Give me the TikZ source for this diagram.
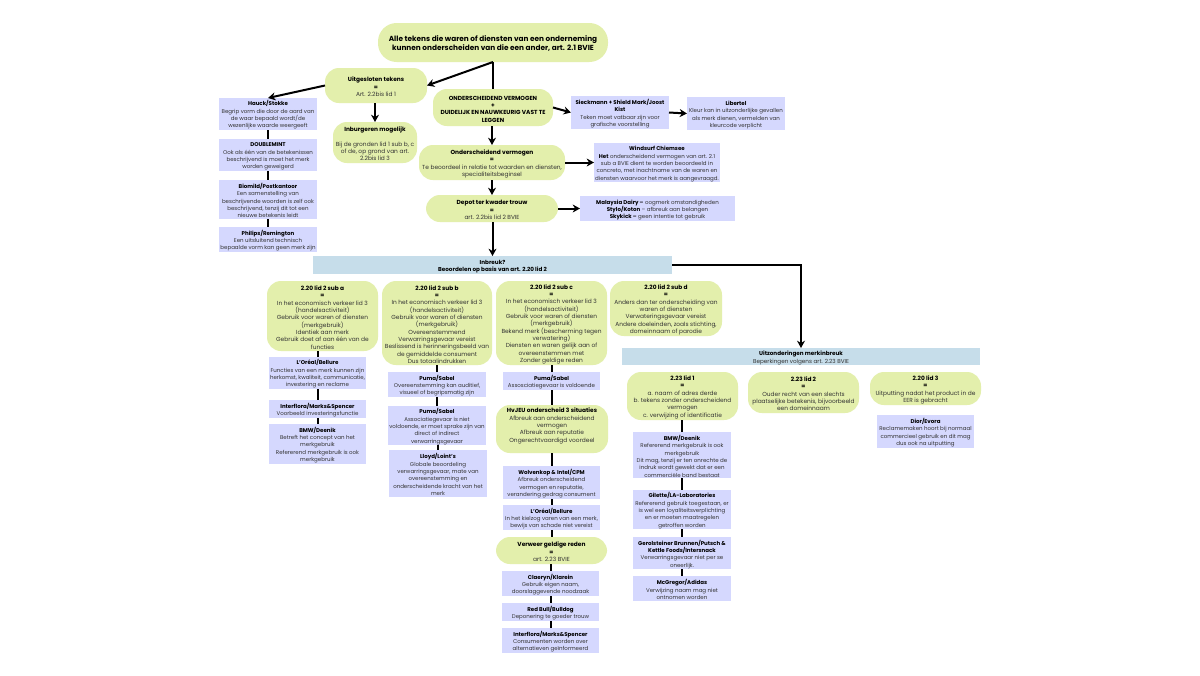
\documentclass[tikz,border=0pt]{standalone}
\usepackage{fontspec}
\setmainfont{Poppins}
\usetikzlibrary{arrows.meta}
\definecolor{gn}{HTML}{E3EFAC}
\definecolor{lil}{HTML}{D5D8FE}
\definecolor{blu}{HTML}{C6DDEA}
\definecolor{body}{HTML}{333333}
\newcommand\bx[7]{\node[#2,minimum width={(#5-#3)*0.75pt},minimum height={(#6-#4)*0.75pt}] (#1) at ({(#3+#5)/2},{(#4+#6)/2}) {\rule{0pt}{5.6pt}#7};}
\newcommand\hd[1]{\textbf{\color{black}#1}}
\tikzset{
 base/.style={inner sep=0pt,outer sep=0pt,align=center,text=body,font=\fontsize{4.12}{5.5}\selectfont},
 pill/.style={base,fill=gn,rounded corners=10.5pt,font=\fontsize{4.4}{5.5}\selectfont},
 card/.style={base,fill=lil},
 band/.style={base,fill=blu,font=\fontsize{4.25}{5.5}\selectfont},
 titlebox/.style={pill,rounded corners=14pt,text=black,font=\fontsize{5.5}{7}\selectfont\bfseries},
 arr/.style={line width=1.5pt,-{Stealth[length=5.5pt,width=6pt]}},
 lnk/.style={line width=1.5pt},
}
\begin{document}
\begin{tikzpicture}[x=0.75pt,y=-0.75pt]
\useasboundingbox (0,0) rectangle (1200,675);
\fill[white] (0,0) rectangle (1200,675);
\bx{top}{titlebox}{378}{23}{608}{62}{Alle tekens die waren of diensten van een onderneming\\kunnen onderscheiden van die een ander, art. 2.1 BVIE}
\bx{uit}{pill}{325}{68}{427}{103}{\hd{Uitgesloten tekens}\\\hd{=}\\Art. 2.2bis lid 1}
\bx{hauck}{card}{219}{98}{317}{130}{\hd{Hauck/Stokke}\\Begrip vorm die door de aard van\\de waar bepaald wordt/de\\wezenlijke waarde weergeeft}
\bx{dm}{card}{219}{139}{317}{171}{\hd{DOUBLEMINT}\\Ook als één van de betekenissen\\beschrijvend is moet het merk\\worden geweigerd}
\bx{biomild}{card}{219}{180}{317}{219}{\hd{Biomild/Postkantoor}\\Een samenstelling van\\beschrijvende woorden is zelf ook\\beschrijvend, tenzij dit tot een\\nieuwe betekenis leidt}
\bx{philips}{card}{219}{227}{317}{252}{\hd{Philips/Remington}\\Een uitsluitend technisch\\bepaalde vorm kan geen merk zijn}
\bx{inb}{pill}{333}{122}{417}{163}{\hd{Inburgeren mogelijk}\\[5.5pt]Bij de gronden lid 1 sub b, c\\of de, op grond van art.\\2.2bis lid 3}
\bx{ond}{pill}{433}{89}{553}{126}{\hd{ONDERSCHEIDEND VERMOGEN}\\\hd{+}\\\hd{DUIDELIJK EN NAUWKEURIG VAST TE}\\\hd{LEGGEN}}
\bx{sieck}{card}{571}{96}{669}{129}{\hd{Sieckmann + Shield Mark/Joost}\\\hd{Kist}\\Teken moet vatbaar zijn voor\\grafische voorstelling}
\bx{lib}{card}{687}{97}{785}{130}{\hd{Libertel}\\Kleur kan in uitzonderlijke gevallen\\als merk dienen, vermelden van\\kleurcode verplicht}
\bx{onv}{pill}{419}{145}{565}{180}{\hd{Onderscheidend vermogen}\\\hd{=}\\Te beoordeel in relatie tot waarden en diensten,\\specialiteitsbeginsel}
\bx{wind}{card}{594}{143}{720}{182}{\hd{Windsurf Chiemsee}\\\hd{Het} onderscheidend vermogen van art. 2.1\\sub a BVIE dient te worden beoordeeld in\\concreto, met inachtname van de waren en\\diensten waarvoor het merk is aangevraagd.}
\bx{depot}{pill}{426}{195}{558}{222}{\hd{Depot ter kwader trouw}\\\hd{=}\\art. 2.2bis lid 2 BVIE}
\bx{mal}{card}{580}{196}{735}{221}{\hd{Malaysia Dairy –} oogmerk omstandigheden\\\hd{Stylo/Koton} – afbreuk aan belangen\\\hd{Skykick –} geen intentie tot gebruik}
\bx{inbr}{band}{313}{256}{672}{274}{\hd{Inbreuk?}\\\hd{Beoordelen op basis van art. 2.20 lid 2}}
\bx{suba}{pill}{267}{281}{378}{351}{\hd{2.20 lid 2 sub a}\\\hd{=}\\In het economisch verkeer lid 3\\(handelsactiviteit)\\Gebruik voor waren of diensten\\(merkgebruik)\\Identiek aan merk\\Gebruik doet af aan één van de\\functies}
\bx{subb}{pill}{382}{281}{492}{365}{\hd{2.20 lid 2 sub b}\\\hd{=}\\In het economisch verkeer lid 3\\(handelsactiviteit)\\Gebruik voor waren of diensten\\(merkgebruik)\\Overeenstemmend\\Verwarringsgevaar vereist\\Beslissend is herinneringsbeeld van\\de gemiddelde consument\\Dus totaalindrukken}
\bx{subc}{pill}{496}{281}{607}{365}{\hd{2.20 lid 2 sub c}\\\hd{=}\\In het economisch verkeer lid 3\\(handelsactiviteit)\\Gebruik voor waren of diensten\\(merkgebruik)\\Bekend merk (bescherming tegen\\verwatering)\\Diensten en waren gelijk aan of\\overeenstemmen met\\Zonder geldige reden}
\bx{subd}{pill}{610}{281}{722}{336}{\hd{2.20 lid 2 sub d}\\\hd{=}\\Anders dan ter onderscheiding van\\waren of diensten\\Verwateringsgevaar vereist\\Andere doeleinden, zoals stichting,\\domeinnaam of parodie}
\bx{lor}{card}{269}{357}{366}{389}{\hd{L'Oréal/Bellure}\\Functies van een merk kunnen zijn\\herkomst, kwaliteit, communicatie,\\investering en reclame}
\bx{intf}{card}{269}{400}{366}{418}{\hd{Interflora/Marks\&Spencer}\\Voorbeeld investeringsfunctie}
\bx{bmwa}{card}{269}{424}{366}{464}{\hd{BMW/Deenik}\\Betreft het concept van het\\merkgebruik\\Refererend merkgebruik is ook\\merkgebruik}
\bx{pumaa}{card}{388}{372}{486}{397}{\hd{Puma/Sabel}\\Overeenstemming kan auditief,\\visueel of begripsmatig zijn}
\bx{pumab}{card}{388}{406}{486}{445}{\hd{Puma/Sabel}\\Associatiegevaar is niet\\voldoende, er moet sprake zijn van\\direct of indirect\\verwarringsgevaar}
\bx{lloyd}{card}{389}{450}{487}{497}{\hd{Lloyd/Loint's}\\Globale beoordeling\\verwarringsgevaar, mate van\\overeenstemming en\\onderscheidende kracht van het\\merk}
\bx{pumac}{card}{503}{372}{600}{390}{\hd{Puma/Sabel}\\Assosciatiegevaar is voldoende}
\bx{hv}{pill}{496}{405}{608}{453}{\hd{HvJEU onderscheid 3 situaties}\\Afbreuk aan onderscheidend\\vermogen\\Afbreuk aan reputatie\\Ongerechtvaardigd voordeel\\[2.5pt]}
\bx{wolv}{card}{503}{466}{600}{499}{\hd{Wolvenkop \& Intel/CPM}\\Afbreuk onderscheidend\\vermogen en reputatie,\\verandering gedrag consument}
\bx{lorc}{card}{503}{505}{600}{530}{\hd{L'Oréal/Bellure}\\In het kielzog varen van een merk,\\bewijs van schade niet vereist}
\bx{verw}{pill}{496}{537}{607}{564}{\hd{Verweer geldige reden}\\\hd{=}\\art. 2.23 BVIE}
\bx{cla}{card}{502}{571}{599}{596}{\hd{Claeryn/Klarein}\\Gebruik eigen naam,\\doorslaggevende noodzaak}
\bx{red}{card}{502}{603}{599}{621}{\hd{Red Bull/Bulldog}\\Deponering te goeder trouw}
\bx{intc}{card}{502}{628}{599}{653}{\hd{Interflora/Marks\&Spencer}\\Consumenten worden over\\alternatieven geïnformeerd}
\bx{uitz}{band}{622}{348}{980}{365}{\hd{Uitzonderingen merkinbreuk}\\Beperkingen volgens art. 2.23 BVIE}
\bx{la}{pill}{627}{372}{738}{420}{\hd{2.23 lid 1}\\\hd{=}\\a. naam of adres derde\\b. tekens zonder onderscheidend\\vermogen\\c. verwijzing of identificatie}
\bx{lb}{pill}{748}{372}{859}{413}{\hd{2.23 lid 2}\\\hd{=}\\Ouder recht van een slechts\\plaatselijke betekenis, bijvoorbeeld\\een domeinnaam}
\bx{lc}{pill}{870}{372}{981}{405}{\hd{2.20 lid 3}\\\hd{=}\\Uitputting nadat het product in de\\EER is gebracht}
\bx{dior}{card}{877}{415}{974}{448}{\hd{Dior/Evora}\\Reclamemaken hoort bij normaal\\commercieel gebruik en dit mag\\dus ook na uitputting}
\bx{bmwx}{card}{633}{432}{731}{478}{\hd{BMW/Deenik}\\Refererend merkgebruik is ook\\merkgebruik\\Dit mag, tenzij er ten onrechte de\\indruk wordt gewekt dat er een\\commerciële band bestaat}
\bx{gil}{card}{633}{490}{731}{529}{\hd{Gilette/LA-Laboratories}\\Refererend gebruik toegestaan, er\\is wel een loyaliteitsverplichting\\en er moeten maatregelen\\getroffen worden}
\bx{ger}{card}{633}{537}{731}{569}{\hd{Gerolsteiner Brunnen/Putsch \&}\\\hd{Kettle Foods/Intersnack}\\Verwarringsgevaar niet per se\\oneerlijk.}
\bx{mcg}{card}{633}{576}{731}{601}{\hd{McGregor/Adidas}\\Verwijzing naam mag niet\\ontnomen worden}

\draw[arr] (top.south) -- (uit.east);
\draw[lnk] (top.south) -- (ond.north);
\draw[arr] (uit.west) -- (hauck.north);
\foreach \a/\b in {uit/inb,ond/onv,onv/depot,depot/inbr}
  \draw[arr] (\b.north |- \a.south) -- (\b.north);
\draw[arr] (ond.east) -- (sieck.west);
\draw[arr] (sieck.east) -- (lib.west);
\draw[arr] (onv.east) -- (wind.west);
\draw[arr] (depot.east) -- (mal.west);
\draw[arr] (inbr.east) -| (uitz.north);
\foreach \a/\b in {hauck/dm,dm/biomild,biomild/philips,suba/lor,lor/intf,intf/bmwa,subb/pumaa,pumaa/pumab,pumab/lloyd,subc/pumac,pumac/hv,hv/wolv,wolv/lorc,lorc/verw,verw/cla,cla/red,red/intc,la/bmwx,bmwx/gil,gil/ger,ger/mcg}
  \draw[lnk] (\b.north |- \a.south) -- (\b.north);
\end{tikzpicture}
\end{document}
